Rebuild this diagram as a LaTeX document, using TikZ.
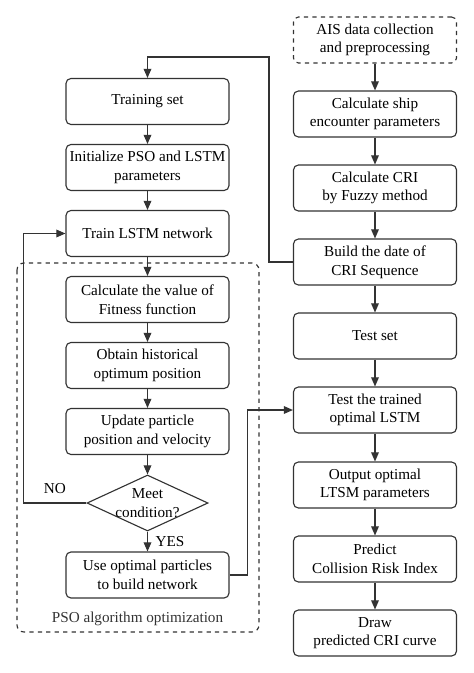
\documentclass[tikz,border=0pt]{standalone}
\usepackage{fontspec}
\setmainfont{Liberation Serif}
\usetikzlibrary{arrows.meta,shapes.geometric}

\begin{document}
\begin{tikzpicture}[x=0.025cm, y=-0.025cm,
		font=\fontsize{10.8}{13.2}\selectfont, line width=0.8pt,
		box/.style={draw=black!80, rounded corners=3.5pt, minimum width=4.075cm, minimum height=1.15cm, inner xsep=2pt, align=center},
		dbox/.style={box, dashed},
		cond/.style={draw=black!80, diamond, inner sep=0pt, minimum width=3.025cm, minimum height=1.4cm},
		arr/.style={draw=black!80, -{Triangle[length=6.5pt,width=5.5pt]}}]
		\useasboundingbox (0,0) rectangle (474,673);
		\draw[black!80, dashed, rounded corners=5pt] (17,263) rectangle (259,632) node (psolbl) at (137.5,619) {PSO algorithm optimization};
		\node[box] (trainset) at (147.5,101.5) {Training set};
		\node[box] (init) at (147.5,167.5) {Initialize PSO and LSTM\\parameters};
		\node[box] (trainlstm) at (147.5,233.5) {Train LSTM network};
		\node[box] (fitness) at (147.5,299.5) {Calculate the value of\\Fitness function};
		\node[box] (hist) at (147.5,365.5) {Obtain historical\\optimum position};
		\node[box] (update) at (147.5,431.5) {Update particle\\position and velocity};
		\node[cond] (meet) at (147.5,503) {};
		\node[align=center] (meettxt) at (meet) {Meet\\condition?};
		\node[box] (useopt) at (147.5,575) {Use optimal particles\\to build network};
		\node[dbox] (ais) at (375,40) {AIS data collection\\and preprocessing};
		\node[box] (ship) at (375,114) {Calculate ship\\encounter parameters};
		\node[box] (cri) at (375,188) {Calculate CRI\\by Fuzzy method};
		\node[box] (build) at (375,262) {Build the date of\\CRI Sequence};
		\node[box] (testset) at (375,336) {Test set};
		\node[box] (testlstm) at (375,410) {Test the trained\\optimal LSTM};
		\node[box] (output) at (375,485) {Output optimal\\LTSM parameters};
		\node[box] (predict) at (375,559) {Predict\\Collision Risk Index};
		\node[box] (drawcri) at (375,633) {Draw\\predicted CRI curve};
		\draw[arr] (trainset) -- (init);
		\draw[arr] (init) -- (trainlstm);
		\draw[arr] (trainlstm) -- (fitness);
		\draw[arr] (fitness) -- (hist);
		\draw[arr] (hist) -- (update);
		\draw[arr] (update) -- (meet);
		\draw[arr] (meet) -- node[right, xshift=2pt] (yes) {YES} (useopt);
		\draw[arr] (meet.west) -- ++(-63,0) node[above, pos=0.5, yshift=3pt] (no) {NO} |- (trainlstm.west);
		\coordinate (loop) at (269,57);
		\draw[arr] (build.west) -| (loop) -| (trainset.north);
		\draw[arr] (useopt.east) -- ++(18,0) |- (testlstm.west);
		\draw[arr] (ais) -- (ship);
		\draw[arr] (ship) -- (cri);
		\draw[arr] (cri) -- (build);
		\draw[arr] (build) -- (testset);
		\draw[arr] (testset) -- (testlstm);
		\draw[arr] (testlstm) -- (output);
		\draw[arr] (output) -- (predict);
		\draw[arr] (predict) -- (drawcri);
	\end{tikzpicture}
\end{document}
